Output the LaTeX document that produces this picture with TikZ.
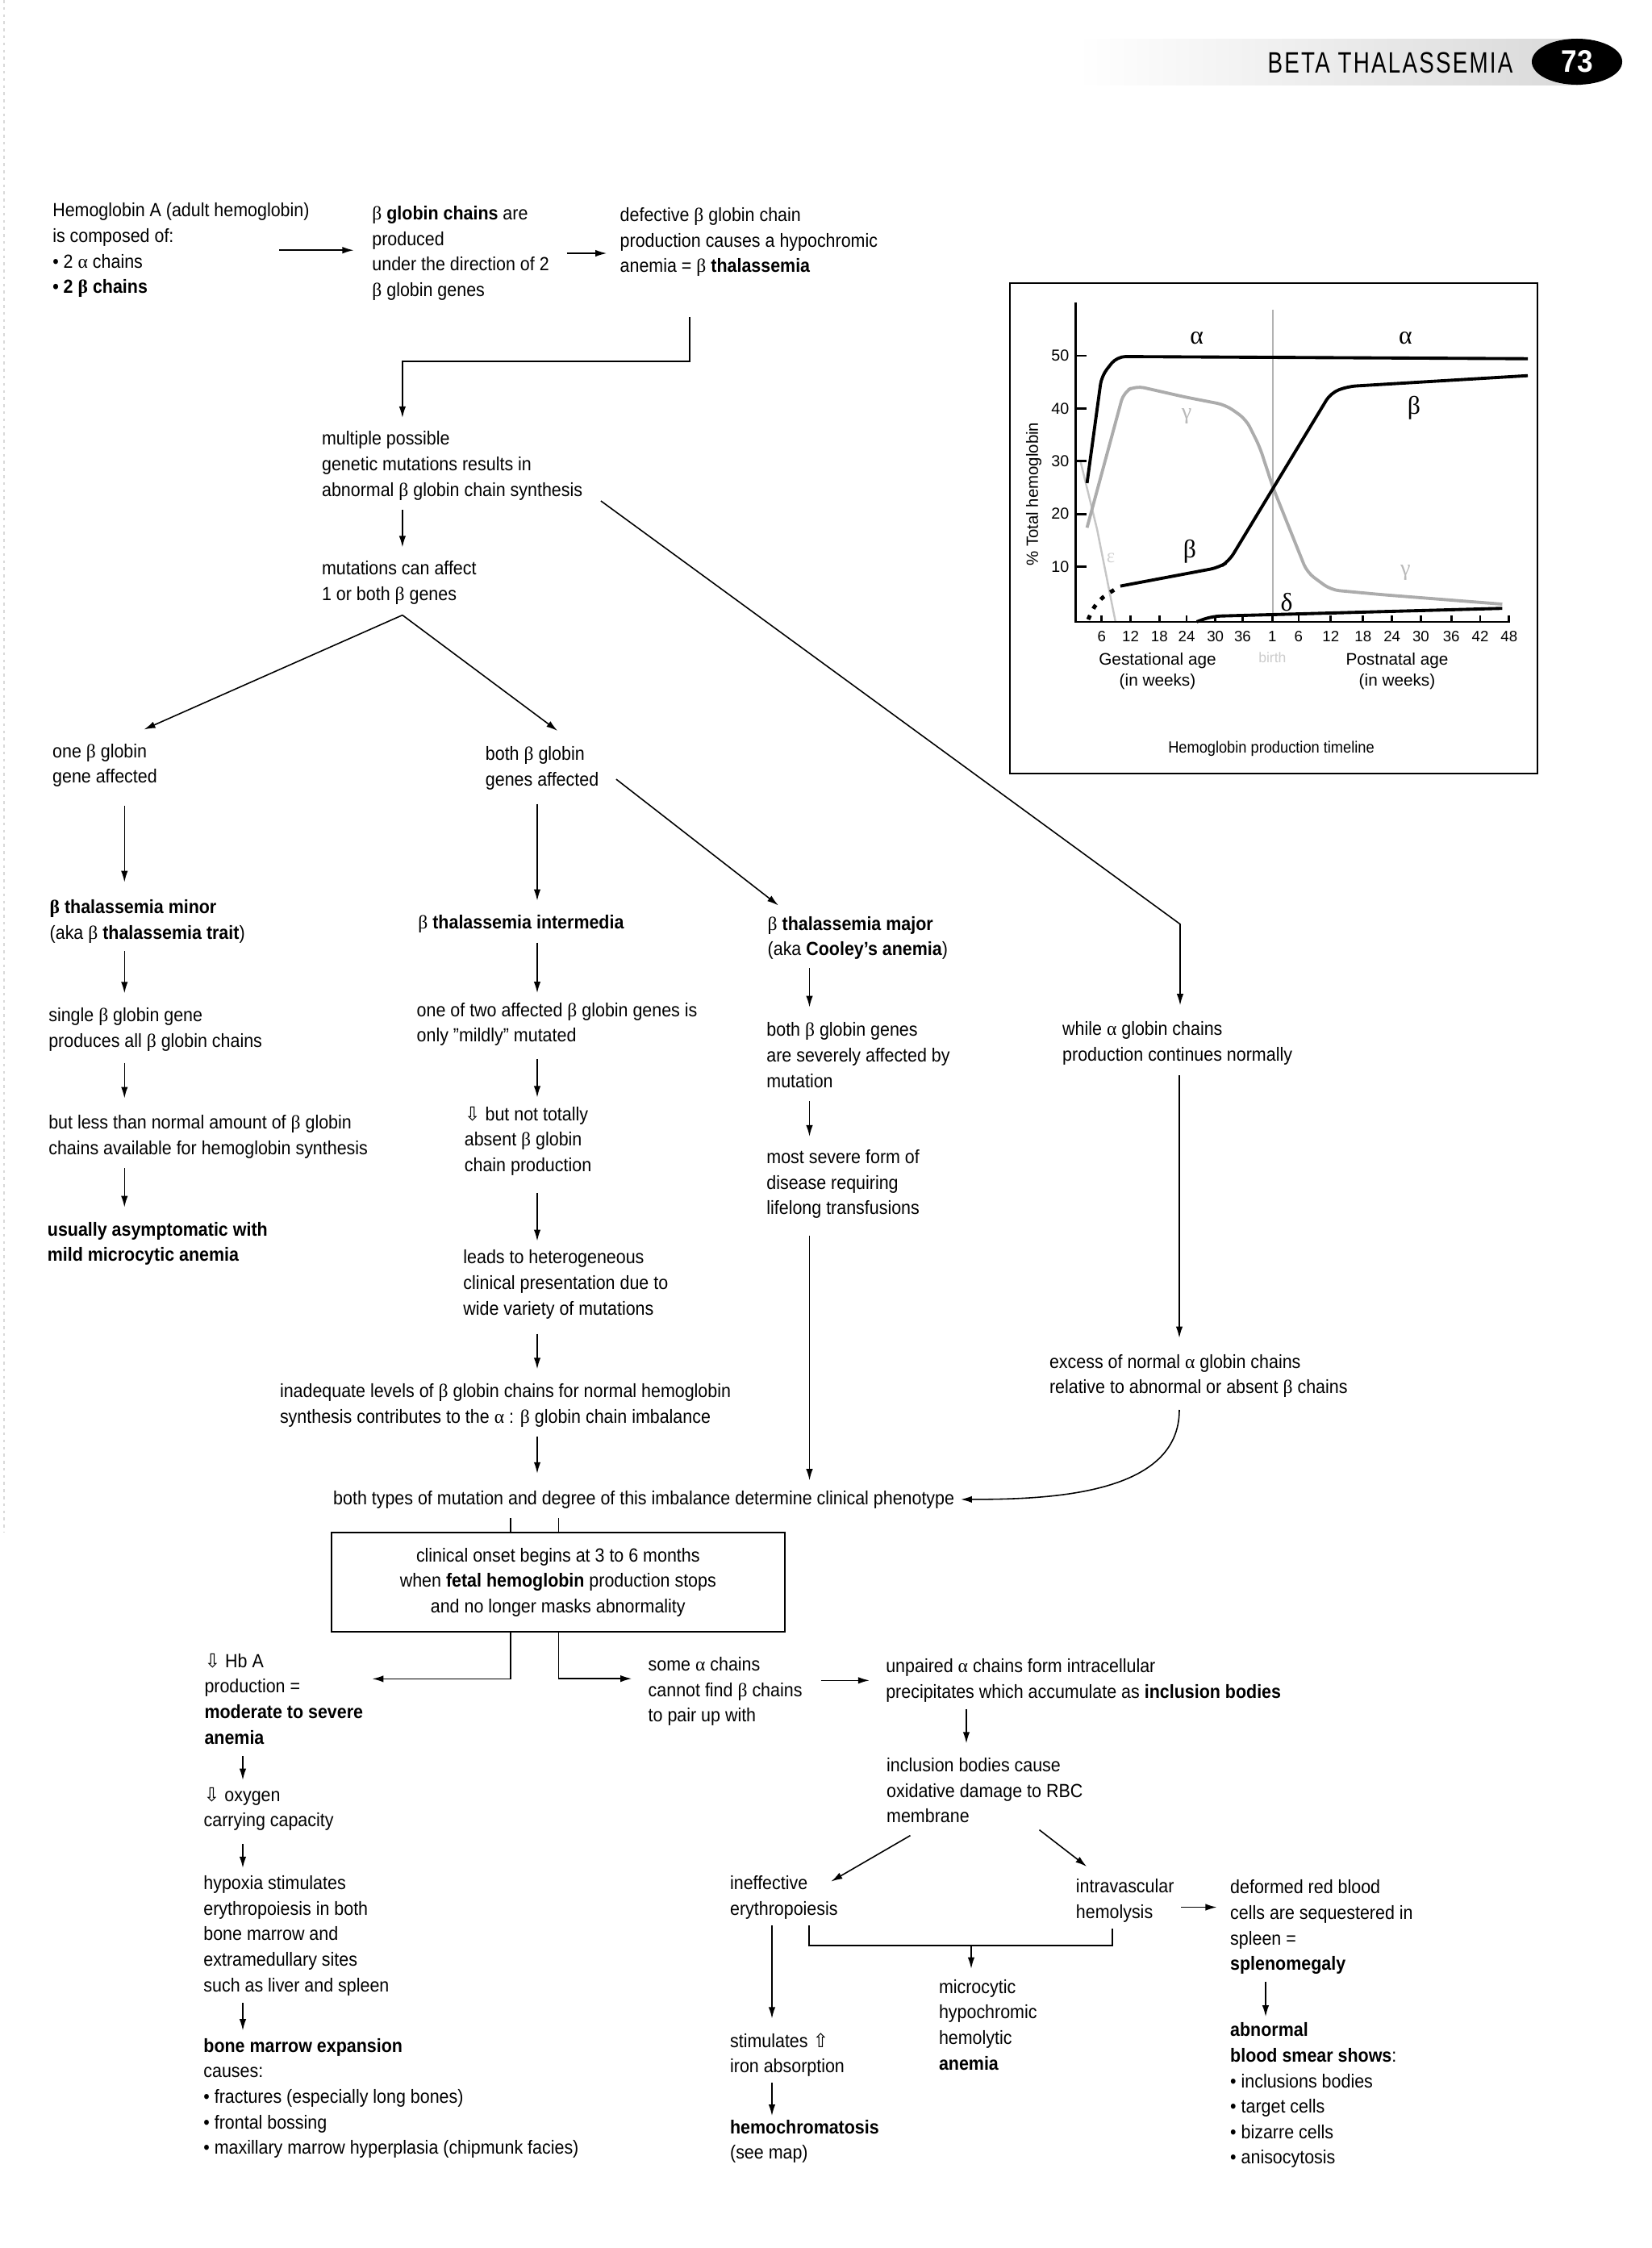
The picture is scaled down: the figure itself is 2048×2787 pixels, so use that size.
\documentclass[tikz,border=0pt]{standalone}
\usepackage{fontspec}
\setmainfont[FakeStretch=0.91]{Liberation Sans}
\newfontfamily\grkfont{Liberation Serif}
\newfontfamily\arrfont{DejaVu Sans}
\newfontfamily\plotfont{Liberation Sans}
\newfontfamily\headfont[FakeStretch=0.76,LetterSpace=6]{Liberation Sans}
\usetikzlibrary{arrows.meta,shapes,positioning,calc}

\newcommand{\gB}{{\grkfont β}}
\newcommand{\gA}{{\grkfont α}}
\newcommand{\dnarr}{{\arrfont ⇩}}
\newcommand{\uparr}{{\arrfont ⇧}}

\begin{document}
\begin{tikzpicture}[
        x=0.01cm, y=-0.01cm,
        >={Latex[length=4pt,width=2.4pt]},
        every node/.style={inner sep=0pt, font=\fontsize{6.7}{9}\selectfont},
        txt/.style={anchor=north west, align=left},
        conn/.style={->, line width=0.45pt},
        gaps/.style 2 args={shorten <=#1, shorten >=#2},
        onsetbox/.style={draw, line width=0.6pt, align=center, minimum width=5.62cm, minimum height=1.23cm},
        hbcurve/.style={line width=1.1pt, rounded corners=3pt},
        ticklab/.style={font=\plotfont\fontsize{5.3}{6}\selectfont}
    ]
    \useasboundingbox (0,0) rectangle (2048,2787);

    % Header
    \shade[left color=white, right color=gray!30] (1335,48) rectangle (1960,105);
    \node[anchor=base east, font=\headfont\fontsize{10.4}{12}\selectfont] (hdr) at (1876,90) {BETA THALASSEMIA};
    \node[ellipse, fill=black, minimum width=1.12cm, minimum height=0.57cm, text=white,
          font=\bfseries\fontsize{11}{12}\selectfont] (pgno) at (1955,76.5) {73};
    \draw[gray!30, line width=0.6pt, dash pattern=on 1pt off 1.5pt] (5,0) -- (5,1900);

    % Nodes
    \node[txt] (hbA) at (64.6,251) {Hemoglobin A (adult hemoglobin)\\is composed of:\\• 2 \gA{} chains\\\textbf{• 2 \gB{} chains}};
    \node[txt] (bglob) at (460.7,254.8) {\gB{} \textbf{globin chains} are\\produced\\under the direction of 2\\\gB{} globin genes};
    \node[txt] (defect) at (768,256.8) {defective \gB{} globin chain\\production causes a hypochromic\\anemia = \gB{} \textbf{thalassemia}};
    \node[txt] (multi) at (398.4,534.2) {multiple possible\\genetic mutations results in\\abnormal \gB{} globin chain synthesis};
    \node[txt] (mutaff) at (398.4,695) {mutations can affect\\1 or both \gB{} genes};

    \node[txt] (one) at (64.5,921.4) {one \gB{} globin\\gene affected};
    \node[txt] (both) at (601.2,925) {both \gB{} globin\\genes affected};

    \node[txt] (minor) at (61,1114.8) {\textbf{\gB{} thalassemia minor}\\(aka \gB{} \textbf{thalassemia trait})};
    \node[txt] (single) at (59.6,1249) {single \gB{} globin gene\\produces all \gB{} globin chains};
    \node[txt] (less) at (59.6,1381.6) {but less than normal amount of \gB{} globin\\chains available for hemoglobin synthesis};
    \node[txt] (asym) at (58.2,1514.3) {\textbf{usually asymptomatic with}\\\textbf{mild microcytic anemia}};

    \node[txt] (inter) at (517.7,1134.2) {\gB{} \textbf{thalassemia intermedia}};
    \node[txt] (mild) at (516,1242.4) {one of two affected \gB{} globin genes is\\only "mildly" mutated};
    \node[txt] (notabs) at (575.2,1371.4) {\dnarr{} but not totally\\absent \gB{} globin\\chain production};
    \node[txt] (hetero) at (573.7,1549.1) {leads to heterogeneous\\clinical presentation due to\\wide variety of mutations};
    \node[txt] (inadeq) at (346.3,1714.9) {inadequate levels of \gB{} globin chains for normal hemoglobin\\synthesis contributes to the \gA{} : \gB{} globin chain imbalance};

    \node[txt] (major) at (951,1135.5) {\gB{} \textbf{thalassemia major}\\(aka \textbf{Cooley's anemia})};
    \node[txt] (sevaff) at (949.7,1267) {both \gB{} globin genes\\are severely affected by\\mutation};
    \node[txt] (severe) at (949.7,1424.8) {most severe form of\\disease requiring\\lifelong transfusions};

    \node[txt] (while) at (1316.5,1265.6) {while \gA{} globin chains\\production continues normally};
    \node[txt] (excess) at (1300.3,1678.4) {excess of normal \gA{} globin chains\\relative to abnormal or absent \gB{} chains};

    \node[txt] (pheno) at (412.5,1847.2) {both types of mutation and degree of this imbalance determine clinical phenotype};
    \node[onsetbox] (onset) at (691.8,1961.6) {clinical onset begins at 3 to 6 months\\when \textbf{fetal hemoglobin} production stops\\and no longer masks abnormality};

    \node[txt] (hba) at (252.8,2049.2) {\dnarr{} Hb A\\production =\\\textbf{moderate to severe}\\\textbf{anemia}};
    \node[txt] (oxy) at (252,2215.2) {\dnarr{} oxygen\\carrying capacity};
    \node[txt] (hypox) at (251.7,2324.6) {hypoxia stimulates\\erythropoiesis in both\\bone marrow and\\extramedullary sites\\such as liver and spleen};
    \node[txt] (bme) at (251.7,2526.4) {\textbf{bone marrow expansion}\\causes:\\• fractures (especially long bones)\\• frontal bossing\\• maxillary marrow hyperplasia (chipmunk facies)};

    \node[txt] (some) at (803,2053.6) {some \gA{} chains\\cannot find \gB{} chains\\to pair up with};
    \node[txt] (unpaired) at (1097.6,2055.8) {unpaired \gA{} chains form intracellular\\precipitates which accumulate as \textbf{inclusion bodies}};
    \node[txt] (incl) at (1098.5,2178.6) {inclusion bodies cause\\oxidative damage to RBC\\membrane};
    \node[txt] (ineff) at (904.4,2324.6) {ineffective\\erythropoiesis};
    \node[txt] (stim) at (904.4,2519.7) {stimulates \uparr\\iron absorption};
    \node[txt] (hemo) at (904.4,2627.3) {\textbf{hemochromatosis}\\(see map)};
    \node[txt] (intrav) at (1333.2,2329) {intravascular\\hemolysis};
    \node[txt] (micro) at (1163.3,2453.4) {microcytic\\hypochromic\\hemolytic\\\textbf{anemia}};
    \node[txt] (deform) at (1524.5,2330.1) {deformed red blood\\cells are sequestered in\\spleen =\\\textbf{splenomegaly}};
    \node[txt] (abn) at (1524.5,2506.9) {\textbf{abnormal}\\\textbf{blood smear shows}:\\• inclusions bodies\\• target cells\\• bizarre cells\\• anisocytosis};

    % Columns and bends
    \coordinate (colA) at (154.3,0);
    \coordinate (colM) at (498.9,0);
    \coordinate (colI) at (666,0);
    \coordinate (colJ) at (1003.5,0);
    \coordinate (colW) at (1462,0);
    \coordinate (colH) at (301,0);
    \coordinate (colE) at (957,0);
    \coordinate (colU) at (1198,0);
    \coordinate (colS) at (1569,0);
    \coordinate (lk) at (633,0);
    \coordinate (rk) at (692.3,0);
    \coordinate (elbow) at (854.7,448);
    \coordinate (kink) at (1463,1145.7);
    \coordinate (fork) at (498.9,762.6);
    \coordinate (brk) at (1204,2412);

    % Edges
    \draw[conn, gaps={0pt}{6.3pt}] ($(hbA.east)+(-38,0)$) -- (hbA.east -| bglob.west);
    \draw[conn, gaps={6pt}{4.5pt}] (bglob.east) -- (bglob.east -| defect.west);
    \draw[conn, gaps={14pt}{4.6pt}] (defect.south -| elbow) -- (elbow) -| (multi.north -| colM);
    \draw[conn, gaps={3.1pt}{4.7pt}] (multi.south -| colM) -- (mutaff.north -| colM);
    \draw[conn, gaps={0pt}{5.5pt}] ([xshift=0.22cm]multi.south east) -- (kink) -- (while.north -| kink);
    \draw[conn] (fork) -- ($(one.north west)+(114,-17)$);
    \draw[conn] (fork) -- ($(both.north west)+(90,-19)$);

    \draw[conn, gaps={6.5pt}{6pt}] (one.south -| colA) -- (minor.north -| colA);
    \draw[conn, gaps={2.6pt}{5pt}] (minor.south -| colA) -- (single.north -| colA);
    \draw[conn, gaps={3.8pt}{5.7pt}] (single.south -| colA) -- (less.north -| colA);
    \draw[conn, gaps={3.3pt}{5pt}] (less.south -| colA) -- (asym.north -| colA);

    \draw[conn, gaps={4.7pt}{5pt}] (both.south -| colI) -- (inter.north -| colI);
    \draw[conn, gaps={3.1pt}{3.2pt}] (inter.south -| colI) -- (mild.north -| colI);
    \draw[conn, gaps={4.4pt}{3.1pt}] (mild.south -| colI) -- (notabs.north -| colI);
    \draw[conn, gaps={5.9pt}{3pt}] (notabs.south -| colI) -- (hetero.north -| colI);
    \draw[conn, gaps={5.1pt}{5pt}] (hetero.south -| colI) -- (inadeq.north -| colI);
    \draw[conn, gaps={3.2pt}{5.8pt}] (inadeq.south -| colI) -- (pheno.north -| colI);

    \draw[conn] ($(both.south east)+(21,-14)$) -- ($(major.north west)+(14,-13)$);
    \draw[conn, gaps={2.8pt}{5.2pt}] (major.south -| colJ) -- (sevaff.north -| colJ);
    \draw[conn, gaps={4.5pt}{4.5pt}] (sevaff.south -| colJ) -- (severe.north -| colJ);
    \draw[conn, gaps={5.9pt}{3.4pt}] (severe.south -| colJ) -- (pheno.north -| colJ);
    \draw[conn, gaps={3.6pt}{5.6pt}] (while.south -| colW) -- (excess.north -| colW);
    \draw[conn, gaps={4.1pt}{2pt}] (excess.south -| colW) to[out=-90, in=0] (pheno.east);

    \draw[line width=0.45pt, shorten <=3.2pt] (pheno.south -| lk) -- (onset.north -| lk);
    \draw[line width=0.45pt, shorten <=3.2pt] (pheno.south -| rk) -- (onset.north -| rk);
    \draw[conn, shorten >=3pt] (onset.south -| lk) |- ([yshift=0.247cm]hba.east);
    \draw[conn, shorten >=5.6pt] (onset.south -| rk) |- ([yshift=0.158cm]some.west);
    \draw[conn, gaps={6.4pt}{5.6pt}] (unpaired.west -| some.east) -- (unpaired.west);
    \draw[conn, gaps={2.2pt}{4.9pt}] (unpaired.south -| colU) -- (incl.north -| colU);
    \draw[conn] ($(incl.south west)+(30,15)$) -- ($(ineff.north east)+(-9,8)$);
    \draw[conn] ($(incl.south west)+(190,8)$) -- ($(intrav.north west)+(14,-15)$);
    \draw[line width=0.45pt, shorten <=2.2pt, shorten >=2pt] ([xshift=0.312cm]ineff.south) |- (brk) -| ([xshift=-0.159cm]intrav.south);
    \draw[conn, shorten >=3.6pt] (brk) -- (micro.north -| brk);
    \draw[conn, gaps={2.2pt}{4.9pt}] (ineff.south -| colE) -- (stim.north -| colE);
    \draw[conn, gaps={2pt}{1.2pt}] (stim.south -| colE) -- (hemo.north -| colE);
    \draw[conn, gaps={4pt}{2.4pt}] (hba.south -| colH) -- (oxy.north -| colH);
    \draw[conn, gaps={4.4pt}{2.5pt}] (oxy.south -| colH) -- (hypox.north -| colH);
    \draw[conn, gaps={2.5pt}{2.6pt}] (hypox.south -| colH) -- (bme.north -| colH);
    \draw[conn] ($(intrav.east)+(8,8)$) -- ($(intrav.east -| deform.west)+(-16,8)$);
    \draw[conn, gaps={2.3pt}{1.9pt}] (deform.south -| colS) -- (abn.north -| colS);

    % Chart
    \draw[line width=0.6pt] (1252,351) rectangle (1906,959);
    \draw[gray!45, line width=0.7pt] (1339.5,572) -- (1360,656) -- (1382.7,770);
    \draw[gray!60, line width=0.5pt] (1578.3,383.5) -- (1578.3,771);
    \draw[hbcurve, gray!65] (1347.6,654.2) -- (1393.1,486.2) -- (1407.8,478.3) -- (1468.9,492.2)
        -- (1519.4,502) -- (1544.6,519.8) -- (1561.4,553.4) -- (1578.3,604.8) -- (1620.4,709.6)
        -- (1649.8,731.3) -- (1713,737.2) -- (1862.4,749);
    \draw[hbcurve] (1347.6,598.9) -- (1365.7,466) -- (1384.7,442) -- (1894,444.7);
    \draw[hbcurve] (1388.9,726.6) -- (1511,703.6) -- (1523.6,695.7) -- (1649.8,487) -- (1670.9,479.1) -- (1894,465.7);
    \draw[line width=1.4pt, dash pattern=on 1.6pt off 2.6pt] plot[smooth] coordinates {(1349,768) (1357,752) (1368,740) (1385,729)};
    \draw[hbcurve] (1483.6,770.8) -- (1502.5,764) -- (1862.4,754.2);
    \draw[line width=0.8pt] (1333.5,375) -- (1333.5,771) -- (1872,771);
    \foreach \v/\yy in {10/702.6,20/637.2,30/571.8,40/506.4,50/441}{
        \draw[line width=0.8pt] (1333.5,\yy) -- (1347,\yy);
        \node[anchor=east, font=\plotfont\fontsize{5.6}{6}\selectfont] (yl\v) at (1326,\yy) {\v};
    }
    \foreach \xx/\lab [count=\i] in {1365.7/6,1401.5/12,1437.3/18,1471/24,1506.7/30,1540.4/36,1577.4/1,1609.9/6,
        1649.8/12,1689.8/18,1725.6/24,1761.4/30,1799.2/36,1835/42,1870.8/48}{
        \draw[line width=0.8pt] (\xx,771) -- (\xx,763);
        \node[ticklab] (xl\i) at (\xx,789) {\lab};
    }
    \node[font=\plotfont\fontsize{5.8}{7}\selectfont, rotate=90] (ylab) at (1281.6,612.7) {\% Total hemoglobin};
    \node[font=\plotfont\fontsize{5.9}{7.4}\selectfont, align=center] (gest) at (1435,832) {Gestational age\\(in weeks)};
    \node[font=\plotfont\fontsize{5.9}{7.4}\selectfont, align=center] (post) at (1732,832) {Postnatal age\\(in weeks)};
    \node[font=\plotfont\fontsize{5}{6}\selectfont, text=gray!40] (birth) at (1577.4,815) {birth};
    \node[font=\fontsize{5.7}{7}\selectfont] (ttl) at (1576,928) {Hemoglobin production timeline};
    \node[font=\grkfont\fontsize{9}{10}\selectfont] (a1) at (1483.6,419) {α};
    \node[font=\grkfont\fontsize{9}{10}\selectfont] (a2) at (1742.4,419) {α};
    \node[font=\grkfont\fontsize{9}{10}\selectfont] (b1) at (1753,506) {β};
    \node[font=\grkfont\fontsize{9}{10}\selectfont] (b2) at (1475,684) {β};
    \node[font=\grkfont\fontsize{8}{10}\selectfont, text=gray!55] (g1) at (1471,516) {γ};
    \node[font=\grkfont\fontsize{8}{10}\selectfont, text=gray!55] (g2) at (1742.4,709.6) {γ};
    \node[font=\grkfont\fontsize{9}{10}\selectfont] (d1) at (1595,747) {δ};
    \node[font=\grkfont\fontsize{7}{8}\selectfont, text=gray!35] (eps) at (1377,692) {ε};
\end{tikzpicture}
\end{document}
